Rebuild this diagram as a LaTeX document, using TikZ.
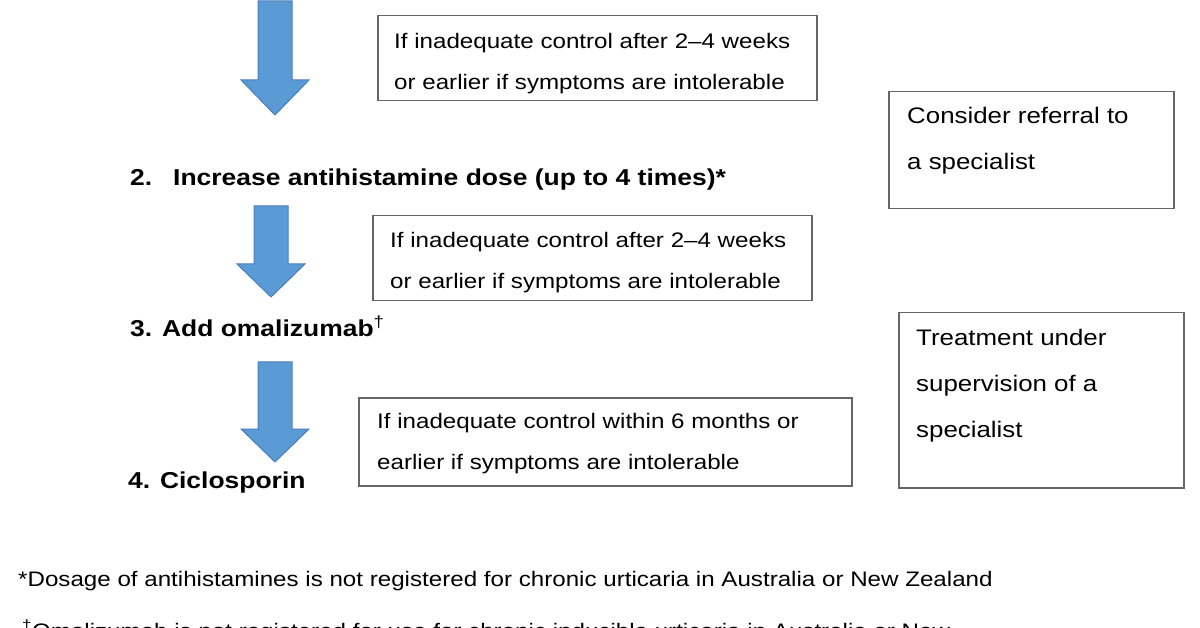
\documentclass[tikz,border=0pt]{standalone}
\usepackage{fontspec}
\setmainfont{Liberation Sans}[FakeStretch=1.15]
\usetikzlibrary{positioning}

\definecolor{arrowblue}{HTML}{5B9BD5}
\definecolor{arrowedge}{HTML}{4A7EBB}

\tikzset{
  box/.style={draw=black!60, line width=1.5pt, inner sep=0pt, anchor=north west},
  boxtext/.style={inner sep=0pt, anchor=base west, align=left, font=\fontsize{21}{41}\selectfont},
  sidetext/.style={inner sep=0pt, anchor=base west, align=left, font=\fontsize{22.5}{46}\selectfont},
  steptext/.style={inner sep=0pt, anchor=base west, font=\fontsize{23}{27}\selectfont\bfseries},
  foottext/.style={inner sep=0pt, anchor=base west, font=\fontsize{21}{25}\selectfont},
  blockarrow/.style={fill=arrowblue, draw=arrowedge, line width=1pt, line join=miter}
}

\begin{document}
\begin{tikzpicture}[x=1pt, y=-1pt]
  \useasboundingbox (0,0) rectangle (1200,628);
  \clip (0,0) rectangle (1200,628);

  % Block arrows: centre / top / head base / tip
  \foreach \ax/\ay/\ab/\at in {275/1/80/115, 271/206/264/297, 275/362/429/462}
    \filldraw[blockarrow] (\ax-17,\ay) -- (\ax+17,\ay) -- (\ax+17,\ab) -- (\ax+34,\ab)
      -- (\ax,\at) -- (\ax-34,\ab) -- (\ax-17,\ab) -- cycle;

  % Steps
  \node[steptext] (step2) at (130,186) {2.\hspace{21pt}Increase antihistamine dose (up to 4 times)*};
  \node[steptext] (step3) at (130,337) {3. Add omalizumab\textsuperscript{\mdseries\textdagger}};
  \node[steptext] (step4) at (128,488) {4. Ciclosporin};

  % Condition boxes (text placed at the baseline of its last line)
  \node[box, minimum width=439, minimum height=85] (cond1) at (377,15) {};
  \node[boxtext] (cond1txt) at (394,90) {If inadequate control after 2--4 weeks\\or earlier if symptoms are intolerable};
  \node[box, minimum width=439, minimum height=85] (cond2) at (372,215) {};
  \node[boxtext] (cond2txt) at (390,289) {If inadequate control after 2--4 weeks\\or earlier if symptoms are intolerable};
  \node[box, minimum width=493, minimum height=88] (cond3) at (358,397) {};
  \node[boxtext] (cond3txt) at (377,469) {If inadequate control within 6 months or\\earlier if symptoms are intolerable};

  % Specialist boxes
  \node[box, minimum width=285, minimum height=117] (referral) at (888,91) {};
  \node[sidetext] (referraltxt) at (907,170) {Consider referral to\\a specialist};
  \node[box, minimum width=285, minimum height=175] (supervision) at (898,312) {};
  \node[sidetext] (supervisiontxt) at (916,437) {Treatment under\\supervision of a\\specialist};

  % Footnotes
  \node[foottext] (foot1) at (18,586) {*Dosage of antihistamines is not registered for chronic urticaria in Australia or New Zealand};
  \node[foottext] (foot2) at (22,638) {\textsuperscript{\textdagger}Omalizumab is not registered for use for chronic inducible urticaria in Australia or New};
\end{tikzpicture}
\end{document}
